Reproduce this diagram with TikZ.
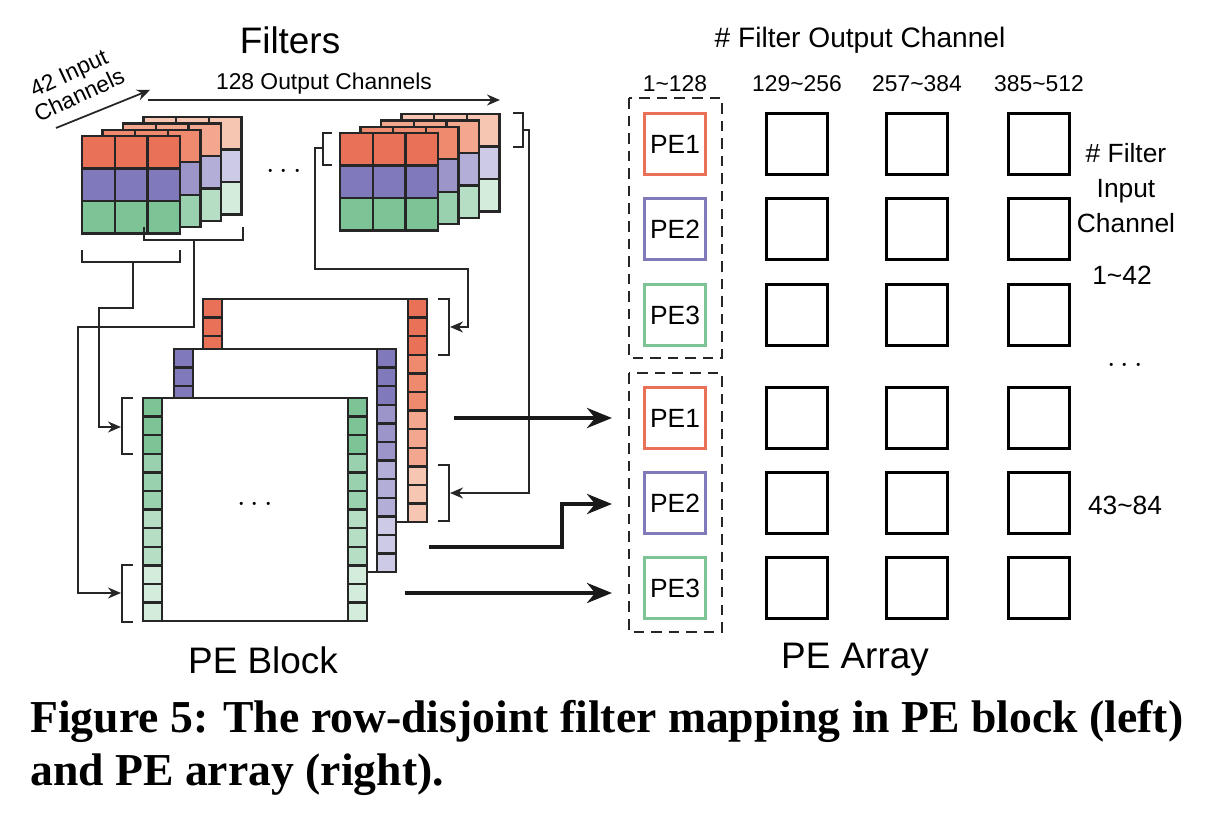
\documentclass[tikz,border=0pt]{standalone}
\usepackage{fontspec}
\setmainfont{Liberation Serif}
\newfontfamily\sansf{Liberation Sans}
\usetikzlibrary{arrows.meta,positioning}

\definecolor{fred0}{HTML}{E97157}\definecolor{fred1}{HTML}{EF8A6E}
\definecolor{fred2}{HTML}{F3A78E}\definecolor{fred3}{HTML}{F7C6B3}
\definecolor{fpur0}{HTML}{8079BA}\definecolor{fpur1}{HTML}{9C95C9}
\definecolor{fpur2}{HTML}{B3AED8}\definecolor{fpur3}{HTML}{CDCAE6}
\definecolor{fgrn0}{HTML}{7CC496}\definecolor{fgrn1}{HTML}{99D0AD}
\definecolor{fgrn2}{HTML}{B5DEC4}\definecolor{fgrn3}{HTML}{D3ECDC}

\tikzset{
  cell/.style={draw=black!85, line width=1.3pt},
  thin/.style={draw=black!85, line width=1pt},
  tip/.style={thin, -{Stealth[length=2.6mm,width=2.2mm]}},
  big/.style={draw=black!90, line width=2.4pt, -{Stealth[length=5mm,width=4mm]}},
  pe/.style={draw, line width=1.5pt, minimum size=1.22cm, inner sep=0pt, font=\sansf\fontsize{15}{15}\selectfont},
  lbl/.style={font=\sansf\fontsize{13}{14}\selectfont, align=center, inner sep=1pt}
}

% stack of 4 filters, front top-left at #1,#2
\newcommand\filterstack[2]{%
  \foreach \i in {3,2,1,0}{
    \foreach \r/\c in {0/fred,1/fpur,2/fgrn}{
      \foreach \k in {0,1,2}
        \draw[cell, fill=\c\i] ({#1+20.5*\i+32.7*\k},{#2-6.3*\i+32.5*\r}) rectangle ++(32.7,32.5);
    }}}

% PE block layer: left x, right column x, top, cells on left, colour
\newcommand\pelayer[5]{%
  \draw[cell, fill=white] (#1,#3) rectangle ({#2+19},{#3+12*18.6});
  \foreach \j in {0,...,11}{
    \pgfmathtruncatemacro\s{\j/3}
    \draw[cell, fill=#5\s] (#2,{#3+18.6*\j}) rectangle ++(19,18.6);
  }
  \foreach \j in {1,...,#4}{
    \pgfmathtruncatemacro\s{(\j-1)/3}
    \draw[cell, fill=#5\s] (#1,{#3+18.6*(\j-1)}) rectangle ++(19,18.6);
  }}

\begin{document}
\begin{tikzpicture}[x=0.02cm, y=-0.02cm]
  \useasboundingbox (0,0) rectangle (1224,814);

  % filters
  \node[font=\sansf\fontsize{21}{21}\selectfont] (filt) at (290,40) {Filters};
  \filterstack{82}{136}
  \filterstack{340}{133}
  \node[font=\sansf\fontsize{18}{18}\selectfont] (dots1) at (284,172) {$\cdots$};
  \node[lbl, rotate=25] (inlbl) at (74,84) {42 Input\\Channels};
  \coordinate (in1) at (56,128);
  \coordinate (in2) at (150,90);
  \draw[tip] (in1) -- (in2);
  \coordinate (out1) at (148,100);
  \coordinate (out2) at (500,100);
  \draw[tip] (out1) -- node[lbl, above=2pt] {128 Output Channels} (out2);

  % brackets under / beside filters
  \draw[thin] (82,250) -- (82,262) -- (180,262) -- (180,250);
  \draw[thin] (144,227) -- (144,240) -- (243,240) -- (243,227);
  \draw[thin] (332,133) -- (323,133) -- (323,165) -- (332,165);
  \draw[thin] (513,113) -- (523,113) -- (523,147) -- (513,147);

  % PE block
  \pelayer{203}{408}{299}{3}{fred}
  \pelayer{174}{377}{349}{3}{fpur}
  \pelayer{143}{348}{398}{12}{fgrn}
  \node[font=\sansf\fontsize{18}{18}\selectfont] (dots2) at (255,505) {$\cdots$};
  \node[font=\sansf\fontsize{21}{21}\selectfont] (peblock) at (263,660) {PE Block};

  % brackets beside PE block
  \draw[thin] (133,398) -- (122,398) -- (122,454) -- (133,454);
  \draw[thin] (133,565) -- (122,565) -- (122,622) -- (133,622);
  \draw[thin] (438,299) -- (449,299) -- (449,355) -- (438,355);
  \draw[thin] (438,465) -- (449,465) -- (449,521) -- (438,521);

  % routing
  \draw[tip] (133,262) -- (133,308) -- (99,308) -- (99,427) -- (121,427);
  \draw[tip] (194,240) -- (194,327) -- (78,327) -- (78,593) -- (121,593);
  \draw[tip] (323,148) -- (315,148) -- (315,269) -- (468,269) -- (468,327) -- (450,327);
  \draw[tip] (523,130) -- (529,130) -- (529,493) -- (450,493);

  % PE array
  \foreach \r/\y in {1/144,2/229,3/315,4/418,5/503,6/588}{
    \foreach \c/\x in {2/797,3/917,4/1039}
      \node[pe] (pe\r\c) at (\x,\y) {};
  }
  \node[pe, draw=fred0] (pe11) at (675,144) {PE1};
  \node[pe, draw=fpur0] (pe21) at (675,229) {PE2};
  \node[pe, draw=fgrn0] (pe31) at (675,315) {PE3};
  \node[pe, draw=fred0] (pe41) at (675,418) {PE1};
  \node[pe, draw=fpur0] (pe51) at (675,503) {PE2};
  \node[pe, draw=fgrn0] (pe61) at (675,588) {PE3};
  \draw[thin, dashed, dash pattern=on 6pt off 4pt] (629,98) rectangle (722,358);
  \draw[thin, dashed, dash pattern=on 6pt off 4pt] (629,373) rectangle (722,632);

  \node[lbl] (h1) at (675,84) {1\textasciitilde128};
  \node[lbl] (h2) at (797,84) {129\textasciitilde256};
  \node[lbl] (h3) at (917,84) {257\textasciitilde384};
  \node[lbl] (h4) at (1039,84) {385\textasciitilde512};
  \node[font=\sansf\fontsize{16}{16}\selectfont] (outch) at (860,40) {\# Filter Output Channel};
  \node[font=\sansf\fontsize{15}{20}\selectfont, align=center] (inch) at (1126,188) {\# Filter\\Input\\Channel};
  \node[font=\sansf\fontsize{15}{15}\selectfont] (r1) at (1122,275) {1\textasciitilde42};
  \node[font=\sansf\fontsize{16}{16}\selectfont] (rdots) at (1125,366) {$\cdots$};
  \node[font=\sansf\fontsize{15}{15}\selectfont] (r2) at (1125,505) {43\textasciitilde84};
  \node[font=\sansf\fontsize{21}{21}\selectfont] (pearray) at (855,660) {PE Array};

  % thick arrows
  \coordinate (s1) at (454,418);
  \coordinate (s2) at (429,547);
  \coordinate (s3) at (405,593);
  \draw[big] (s1) -- (612,418);
  \draw[big] (s2) -- (562,547) -- (562,504) -- (612,504);
  \draw[big] (s3) -- (612,593);

  % caption
  \node[anchor=west, align=left, font=\bfseries\fontsize{26}{30}\selectfont] (cap) at (24,748)
    {Figure 5: The row-disjoint filter mapping in PE block (left)\\and PE array (right).};
\end{tikzpicture}
\end{document}
